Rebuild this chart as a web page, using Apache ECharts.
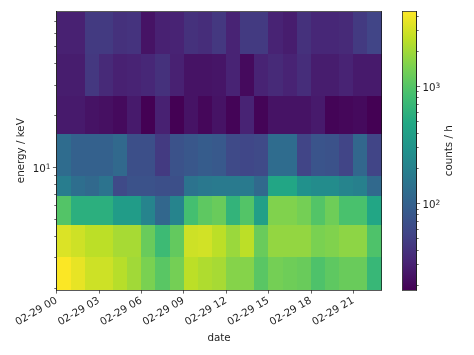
<!DOCTYPE html>
<html lang="en">
<head>
<meta charset="UTF-8">
<title>counts heatmap</title>
<script src="https://cdn.jsdelivr.net/npm/echarts@6/dist/echarts.min.js"></script>
<style>
    html, body { margin: 0; padding: 0; background: #fff; }
    #chart { width: 474px; height: 355px; }
</style>
</head>
<body>
<div id="chart"></div>
<script>
// hours since 02-29 00, one bin per hour
const hourEdges = [0, 1, 2, 3, 4, 5, 6, 7, 8, 9, 10, 11, 12, 13, 14, 15, 16, 17, 18, 19, 20, 21, 22, 23];
const hourTicks = [0, 3, 6, 9, 12, 15, 18, 21];
const energyEdges = [1.95, 3.02, 4.63, 6.84, 8.93, 15.6, 26, 45.2, 80];

// counts per hour, rows go from lowest to highest energy band
const band0 = [4300, 3600, 2900, 2900, 2400, 2000, 1450, 1040, 1370, 2500, 2250, 2100, 1600, 1600, 1040, 1370, 1290, 1225, 934, 1100, 1225, 1225, 700];
const band1 = [3250, 2916, 2500, 2500, 2100, 2100, 1225, 752, 1160, 2900, 3000, 2500, 1900, 2500, 1225, 1790, 1790, 1790, 1450, 1530, 1700, 1700, 934];
const band2 = [986, 575, 575, 575, 370, 370, 214, 111, 214, 843, 1099, 1225, 640, 986, 390, 1530, 1530, 1370, 986, 1290, 885, 885, 460];
const band3 = [180, 131, 117, 146, 61, 72, 72, 68, 68, 146, 163, 172, 172, 172, 117, 470, 470, 283, 250, 250, 214, 192, 117];
const band4 = [124, 99, 99, 99, 117, 68, 68, 46, 72, 80, 89, 84, 61, 58, 61, 124, 124, 55, 76, 72, 55, 111, 55];
const band5 = [27, 27, 24, 23, 21, 27, 18, 30, 18, 24, 20, 24, 19, 31, 19, 24, 24, 24, 27, 19, 20, 21, 18];
const band6 = [28, 28, 44, 35, 30, 31, 33, 39, 30, 24, 24, 25, 31, 21, 31, 35, 31, 37, 28, 28, 31, 27, 27];
const band7 = [30, 30, 46, 46, 39, 41, 24, 30, 31, 39, 37, 44, 31, 46, 46, 31, 28, 39, 33, 33, 35, 46, 55];
const bands = [band0, band1, band2, band3, band4, band5, band6, band7];

const countMin = 18.2;
const countMax = 4360;
const energyMajor = [10];
const energyMinor = [2, 3, 4, 5, 6, 7, 8, 9, 20, 30, 40, 50, 60, 70];
const countMajor = [100, 1000];
const countMinor = [20, 30, 40, 50, 60, 70, 80, 90, 200, 300, 400, 500, 600, 700, 800, 900, 2000, 3000, 4000];

const viridis = ['#440154', '#482475', '#414487', '#355f8d', '#2a788e', '#21918c', '#22a884', '#44bf70', '#7ad151', '#bddf26', '#fde725'];

function hexToRgb(hex) {
    return [1, 3, 5].map(i => parseInt(hex.slice(i, i + 2), 16));
}

function countColor(v) {
    let t = Math.log(v / countMin) / Math.log(countMax / countMin);
    t = Math.max(0, Math.min(1, t)) * (viridis.length - 1);
    const i = Math.min(Math.floor(t), viridis.length - 2);
    const a = hexToRgb(viridis[i]);
    const b = hexToRgb(viridis[i + 1]);
    const f = t - i;
    return 'rgb(' + a.map((c, k) => Math.round(c + (b[k] - c) * f)).join(',') + ')';
}

// [hour start, hour end, energy low, energy high, counts]
const cells = [];
bands.forEach((row, r) => {
    row.forEach((v, h) => {
        cells.push([hourEdges[h], hourEdges[h] + 1, energyEdges[r], energyEdges[r + 1], v]);
    });
});

function renderCell(params, api) {
    const p0 = api.coord([api.value(0), api.value(2)]);
    const p1 = api.coord([api.value(1), api.value(3)]);
    const x0 = Math.round(p0[0]);
    const x1 = Math.round(p1[0]);
    const y0 = Math.round(p0[1]);
    const y1 = Math.round(p1[1]);
    return {
        type: 'rect',
        shape: { x: x0, y: y1, width: x1 - x0, height: y0 - y1 },
        style: { fill: countColor(api.value(4)) }
    };
}

function renderBar(params, api) {
    const p0 = api.coord([0, api.value(0)]);
    const p1 = api.coord([1, api.value(1)]);
    return {
        type: 'rect',
        shape: { x: p0[0], y: p1[1], width: p1[0] - p0[0], height: p0[1] - p1[1] },
        style: {
            fill: new echarts.graphic.LinearGradient(0, 1, 0, 0,
                viridis.map((c, i) => ({ offset: i / (viridis.length - 1), color: c })))
        }
    };
}

const tickColor = '#222';
const textStyle = { color: '#1f1f1f', fontFamily: 'DejaVu Sans', fontSize: 10.3 };
const powerLabel = {
    color: '#1f1f1f',
    fontFamily: 'DejaVu Sans',
    fontSize: 10.3,
    padding: [4, 0, 0, 0],
    rich: {
        sup: { fontFamily: 'DejaVu Sans', fontSize: 7.4, color: '#1f1f1f', verticalAlign: 'top', padding: [0, 0, 5, 0] },
        base: { fontFamily: 'DejaVu Sans', fontSize: 10.3, color: '#1f1f1f' }
    },
    formatter: v => '{base|10}{sup|' + Math.round(Math.log10(v)) + '}'
};

function spine(extra) {
    return Object.assign({
        show: true,
        z: 5,
        nameMoveOverlap: false,
        axisLine: { show: true, onZero: false, lineStyle: { color: '#111', width: 0.7 } },
        axisTick: { show: false },
        axisLabel: { show: false },
        splitLine: { show: false }
    }, extra);
}

function minorAxis(extra, values) {
    return spine(Object.assign({
        axisTick: { show: true, length: 2.2, customValues: values, lineStyle: { color: tickColor, width: 0.7 } }
    }, extra));
}

const chart = echarts.init(document.getElementById('chart'), null, { renderer: 'canvas' });
chart.setOption({
    animation: false,
    backgroundColor: '#fff',
    grid: [
        { left: 56.5, right: 92.5, top: 11.5, height: 278.5 },
        { left: 402.5, right: 57.5, top: 11.5, height: 278.5 }
    ],
    xAxis: [
        spine({
            gridIndex: 0, type: 'value', min: 0, max: 23, position: 'bottom',
            axisTick: { show: true, length: 3.6, customValues: hourTicks, lineStyle: { color: tickColor, width: 0.7 } },
            axisLabel: Object.assign({
                show: true, rotate: 30, margin: 10,
                customValues: hourTicks,
                formatter: h => '02-29 ' + String(h).padStart(2, '0')
            }, textStyle),
            name: 'date', nameLocation: 'middle', nameGap: 43, nameTextStyle: textStyle
        }),
        spine({ gridIndex: 0, type: 'value', min: 0, max: 23, position: 'top' }),
        spine({ gridIndex: 1, type: 'value', min: 0, max: 1, position: 'bottom' }),
        spine({ gridIndex: 1, type: 'value', min: 0, max: 1, position: 'top' })
    ],
    yAxis: [
        spine({
            gridIndex: 0, type: 'log', min: energyEdges[0], max: energyEdges[8], position: 'left',
            axisTick: { show: true, length: 3.6, customValues: energyMajor, lineStyle: { color: tickColor, width: 0.7 } },
            axisLabel: Object.assign({ show: true, margin: 6, customValues: energyMajor }, powerLabel),
            name: 'energy / keV', nameLocation: 'middle', nameGap: 30, nameTextStyle: textStyle
        }),
        minorAxis({ gridIndex: 0, type: 'log', min: energyEdges[0], max: energyEdges[8], position: 'left' }, energyMinor),
        spine({ gridIndex: 0, type: 'log', min: energyEdges[0], max: energyEdges[8], position: 'right' }),
        spine({
            gridIndex: 1, type: 'log', min: countMin, max: countMax, position: 'right',
            axisTick: { show: true, length: 3.6, customValues: countMajor, lineStyle: { color: tickColor, width: 0.7 } },
            axisLabel: Object.assign({ show: true, margin: 6, customValues: countMajor }, powerLabel),
            name: 'counts / h', nameLocation: 'middle', nameGap: 28, nameRotate: 90, nameTextStyle: textStyle
        }),
        minorAxis({ gridIndex: 1, type: 'log', min: countMin, max: countMax, position: 'right' }, countMinor),
        spine({ gridIndex: 1, type: 'log', min: countMin, max: countMax, position: 'left' })
    ],
    series: [
        {
            type: 'custom',
            xAxisIndex: 0,
            yAxisIndex: 0,
            renderItem: renderCell,
            encode: { x: [0, 1], y: [2, 3] },
            data: cells
        },
        {
            type: 'custom',
            xAxisIndex: 2,
            yAxisIndex: 3,
            renderItem: renderBar,
            encode: { y: [0, 1] },
            data: [[countMin, countMax]]
        }
    ]
});
</script>
</body>
</html>
